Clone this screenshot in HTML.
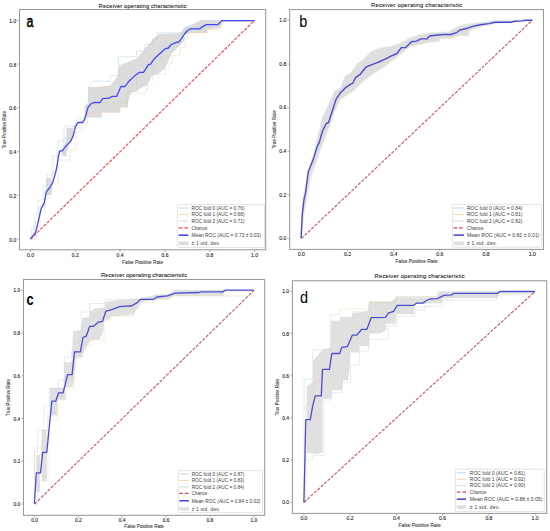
<!DOCTYPE html>
<html><head><meta charset="utf-8"><style>
html,body{margin:0;padding:0;background:#fff;}
svg{display:block;}
</style></head><body>
<svg width="550" height="531" viewBox="0 0 550 531" font-family='"Liberation Sans", sans-serif'>
<rect width="550" height="531" fill="#fff"/>
<polygon points="30.5,239.0 34.5,231.5 36.5,233.5 31.5,239.6" fill="#dcdcdc"/>
<polygon points="46.3,178.0 51.4,178.0 51.4,194.7 47.0,196.0 46.3,192.0" fill="#dcdcdc"/>
<polygon points="66.3,127.5 73.1,128.3 73.8,135.0 69.0,146.0 67.0,152.0 66.3,156.9 61.8,155.4 61.0,150.8 64.0,146.0 66.3,140.0" fill="#dcdcdc"/>
<polygon points="84.8,117.6 84.8,104.8 88.2,104.8 88.5,86.9 95.0,86.9 110.5,85.5 113.0,82.0 117.0,77.0 119.5,65.2 136.5,58.6 151.6,40.7 159.1,34.1 180.0,33.2 185.2,27.6 200.8,20.4 222.5,20.4 254.6,20.8 222.5,21.5 220.2,28.0 207.1,29.6 207.1,32.9 187.5,32.9 184.2,34.5 185.0,39.5 180.2,45.2 172.3,53.1 168.9,59.9 165.5,67.8 158.8,73.5 152.0,75.7 147.4,84.8 135.0,91.6 130.8,92.6 128.0,103.0 128.0,107.6 120.4,107.6 120.4,112.4 102.0,112.4 102.0,117.6" fill="#dcdcdc"/>
<polyline points="30.5,239.0 31.5,239.0 31.5,229.0 35.0,229.0 35.0,214.0 38.0,214.0 38.0,200.0 43.0,200.0 43.0,186.0 47.0,186.0 47.0,175.0 53.0,175.0 53.0,156.0 58.0,156.0 58.0,141.0 64.0,141.0 64.0,126.0 77.0,126.0 77.0,118.0 86.0,118.0 88.5,99.1 88.5,86.9 93.2,81.2 110.1,81.2 110.1,75.6 118.6,75.6 118.6,56.7 136.5,56.7 136.5,51.1 145.0,51.1 145.0,44.5 152.5,44.5 152.5,38.8 157.2,38.8 157.2,32.8 184.0,32.8 184.0,27.0 200.0,27.0 200.0,20.4 254.6,20.4" fill="none" stroke="#a9cbe8" stroke-width="0.7" stroke-opacity="0.6"/>
<polyline points="30.5,239.5 36.0,239.5 36.0,226.0 40.0,226.0 40.0,212.0 45.0,212.0 45.0,198.0 51.0,198.0 51.0,184.0 58.0,184.0 58.0,160.0 70.0,160.0 70.0,150.0 76.0,150.0 76.0,132.0 82.0,132.0 82.0,124.0 87.5,124.0 87.5,112.3 119.5,112.3 119.5,106.6 127.1,106.6 127.1,93.4 145.9,93.4 145.9,89.3 147.4,89.3 147.4,80.2 153.1,80.2 153.1,74.6 165.5,74.6 165.5,68.9 168.9,68.9 168.9,63.3 172.3,63.3 172.3,55.4 180.2,55.4 180.2,47.4 185.0,47.4 185.0,40.0 187.5,40.0 187.5,32.9 207.1,32.9 207.1,29.6 220.2,29.6 220.2,21.5 254.6,21.5" fill="none" stroke="#f6cfa4" stroke-width="0.7" stroke-opacity="0.6"/>
<polyline points="30.5,239.0 34.0,239.0 34.0,222.0 39.0,222.0 39.0,207.0 45.0,207.0 45.0,190.0 52.0,190.0 52.0,172.0 57.0,172.0 57.0,152.0 64.0,152.0 64.0,138.0 72.0,138.0 72.0,128.0 80.0,128.0 80.0,120.0 86.0,120.0 86.0,107.0 100.7,102.9 127.1,102.9 127.1,91.6 136.5,91.6 136.5,76.5 146.9,76.5 146.9,68.0 155.3,68.0 155.3,59.5 161.0,59.5 161.0,46.4 168.5,46.4 168.5,43.5 181.0,43.5 181.0,33.0 188.0,33.0 188.0,29.0 205.0,29.0 205.0,25.0 222.0,25.0 222.0,21.0 254.6,21.0" fill="none" stroke="#b5d8b5" stroke-width="0.7" stroke-opacity="0.6"/>
<line x1="30.5" y1="239.1" x2="254.6" y2="20.3" stroke="#ff4452" stroke-width="1.15" stroke-dasharray="3.2,1.4"/>
<polyline points="30.3,238.9 35.4,233.1 37.6,224.4 41.2,208.5 44.1,203.4 46.3,191.8 49.9,187.5 52.8,182.4 55.7,172.2 57.2,165.0 58.3,157.0 59.8,150.8 62.1,150.8 66.8,145.1 70.6,141.4 73.4,135.2 75.4,126.6 78.0,122.3 82.5,122.5 84.4,119.9 88.2,107.1 90.8,104.0 94.2,102.3 100.2,102.5 102.5,98.7 109.1,98.2 111.9,96.4 116.6,96.4 120.9,86.5 125.1,86.5 128.4,81.8 135.0,75.6 139.5,72.3 143.5,72.3 148.6,64.4 150.3,64.4 154.2,58.8 165.5,48.6 168.4,48.0 171.2,44.6 176.3,42.4 179.1,41.8 184.2,34.5 187.5,30.5 190.7,28.8 199.7,28.8 203.0,26.4 206.3,24.7 217.7,24.7 221.8,20.6 254.6,20.6" fill="none" stroke="#4747f8" stroke-width="1.3" stroke-linejoin="round"/>
<rect x="19.5" y="9.5" width="246.2" height="240.3" fill="none" stroke="#999999" stroke-width="1.05"/>
<line x1="30.5" y1="249.8" x2="30.5" y2="252.0" stroke="#999999" stroke-width="0.8"/>
<line x1="17.3" y1="239.1" x2="19.5" y2="239.1" stroke="#999999" stroke-width="0.8"/>
<text x="30.5" y="257.0" text-anchor="middle" font-size="5.0" fill="#2a2a2a" stroke="#2a2a2a" stroke-width="0.12">0.0</text>
<text x="16.2" y="241.5" text-anchor="end" font-size="5.0" fill="#2a2a2a" stroke="#2a2a2a" stroke-width="0.12">0.0</text>
<line x1="75.3" y1="249.8" x2="75.3" y2="252.0" stroke="#999999" stroke-width="0.8"/>
<line x1="17.3" y1="195.3" x2="19.5" y2="195.3" stroke="#999999" stroke-width="0.8"/>
<text x="75.3" y="257.0" text-anchor="middle" font-size="5.0" fill="#2a2a2a" stroke="#2a2a2a" stroke-width="0.12">0.2</text>
<text x="16.2" y="197.7" text-anchor="end" font-size="5.0" fill="#2a2a2a" stroke="#2a2a2a" stroke-width="0.12">0.2</text>
<line x1="120.1" y1="249.8" x2="120.1" y2="252.0" stroke="#999999" stroke-width="0.8"/>
<line x1="17.3" y1="151.6" x2="19.5" y2="151.6" stroke="#999999" stroke-width="0.8"/>
<text x="120.1" y="257.0" text-anchor="middle" font-size="5.0" fill="#2a2a2a" stroke="#2a2a2a" stroke-width="0.12">0.4</text>
<text x="16.2" y="154.0" text-anchor="end" font-size="5.0" fill="#2a2a2a" stroke="#2a2a2a" stroke-width="0.12">0.4</text>
<line x1="165.0" y1="249.8" x2="165.0" y2="252.0" stroke="#999999" stroke-width="0.8"/>
<line x1="17.3" y1="107.8" x2="19.5" y2="107.8" stroke="#999999" stroke-width="0.8"/>
<text x="165.0" y="257.0" text-anchor="middle" font-size="5.0" fill="#2a2a2a" stroke="#2a2a2a" stroke-width="0.12">0.6</text>
<text x="16.2" y="110.2" text-anchor="end" font-size="5.0" fill="#2a2a2a" stroke="#2a2a2a" stroke-width="0.12">0.6</text>
<line x1="209.8" y1="249.8" x2="209.8" y2="252.0" stroke="#999999" stroke-width="0.8"/>
<line x1="17.3" y1="64.1" x2="19.5" y2="64.1" stroke="#999999" stroke-width="0.8"/>
<text x="209.8" y="257.0" text-anchor="middle" font-size="5.0" fill="#2a2a2a" stroke="#2a2a2a" stroke-width="0.12">0.8</text>
<text x="16.2" y="66.5" text-anchor="end" font-size="5.0" fill="#2a2a2a" stroke="#2a2a2a" stroke-width="0.12">0.8</text>
<line x1="254.6" y1="249.8" x2="254.6" y2="252.0" stroke="#999999" stroke-width="0.8"/>
<line x1="17.3" y1="20.3" x2="19.5" y2="20.3" stroke="#999999" stroke-width="0.8"/>
<text x="254.6" y="257.0" text-anchor="middle" font-size="5.0" fill="#2a2a2a" stroke="#2a2a2a" stroke-width="0.12">1.0</text>
<text x="16.2" y="22.7" text-anchor="end" font-size="5.0" fill="#2a2a2a" stroke="#2a2a2a" stroke-width="0.12">1.0</text>
<text x="142.6" y="7.5" text-anchor="middle" font-size="5.9" textLength="88" lengthAdjust="spacing" fill="#1a1a1a" stroke="#1a1a1a" stroke-width="0.08">Receiver operating characteristic</text>
<text x="142.6" y="263.5" text-anchor="middle" font-size="5.0" textLength="41" lengthAdjust="spacingAndGlyphs" fill="#3c3c3c" stroke="#3c3c3c" stroke-width="0.1">False Positive Rate</text>
<text x="0" y="0" transform="translate(6.1,129.7) rotate(-90)" text-anchor="middle" font-size="5.0" textLength="37.7" lengthAdjust="spacingAndGlyphs" fill="#3c3c3c" stroke="#3c3c3c" stroke-width="0.1">True Positive Rate</text>
<text transform="translate(26.6,26.7) scale(0.72,1)" font-size="17.2" fill="#000" stroke="#000" stroke-width="0.55">a</text>
<rect x="177.3" y="204.7" width="87.2" height="42.7" rx="1" fill="#fff" fill-opacity="0.85" stroke="#dcdcdc" stroke-width="0.8"/>
<line x1="178.8" y1="208.0" x2="188.4" y2="208.0" stroke="#b5d2ea" stroke-width="0.9"/>
<text x="191.5" y="209.8" font-size="4.89" textLength="53.0" lengthAdjust="spacingAndGlyphs" fill="#3c3c3c">ROC fold 0 (AUC = 0.76)</text>
<line x1="178.8" y1="214.6" x2="188.4" y2="214.6" stroke="#f3d3ad" stroke-width="0.9"/>
<text x="191.5" y="216.3" font-size="4.89" textLength="53.0" lengthAdjust="spacingAndGlyphs" fill="#3c3c3c">ROC fold 1 (AUC = 0.68)</text>
<line x1="178.8" y1="221.0" x2="188.4" y2="221.0" stroke="#c9dfc9" stroke-width="0.9"/>
<text x="191.5" y="222.8" font-size="4.89" textLength="53.0" lengthAdjust="spacingAndGlyphs" fill="#3c3c3c">ROC fold 2 (AUC = 0.71)</text>
<line x1="178.8" y1="227.8" x2="188.4" y2="227.8" stroke="#ff4452" stroke-width="1.3" stroke-dasharray="3.6,2.0"/>
<text x="191.5" y="229.6" font-size="4.89" textLength="15.7" lengthAdjust="spacingAndGlyphs" fill="#3c3c3c">Chance</text>
<line x1="178.8" y1="235.2" x2="188.4" y2="235.2" stroke="#4747f8" stroke-width="1.6"/>
<text x="191.5" y="236.9" font-size="4.89" textLength="69.4" lengthAdjust="spacingAndGlyphs" fill="#3c3c3c">Mean ROC (AUC = 0.72 ± 0.03)</text>
<rect x="178.8" y="241.5" width="9.6" height="3.6" fill="#dcdcdc"/>
<text x="191.5" y="245.1" font-size="4.89" textLength="28.5" fill="#3c3c3c">± 1 std. dev.</text>
<polygon points="301.3,238.6 301.6,220.0 303.0,200.0 305.0,190.0 308.0,172.0 312.0,160.0 315.0,150.0 317.0,140.0 322.6,117.2 326.4,109.7 334.6,91.6 340.7,87.9 345.2,76.6 351.2,72.8 357.2,63.8 363.3,60.0 370.0,52.7 378.7,48.4 391.8,46.2 400.5,43.3 409.3,38.2 420.9,34.5 429.4,33.0 448.3,32.3 454.1,28.8 459.9,25.9 471.5,23.7 486.1,22.3 494.5,20.8 532.3,20.3 500.0,22.7 493.4,23.7 480.3,26.6 468.6,31.0 468.6,35.4 459.9,35.4 449.0,38.3 439.5,38.5 439.5,41.0 429.6,42.0 420.9,44.0 409.3,46.9 397.6,56.4 384.5,66.5 373.8,73.6 363.3,81.1 354.2,90.1 345.2,96.1 339.9,99.9 334.6,111.2 329.4,126.3 324.1,140.0 320.0,150.0 316.0,162.0 311.0,176.0 307.0,196.0 304.0,212.0 302.0,228.0 301.3,238.6" fill="#dedede"/>
<polyline points="301.0,238.3 301.3,219.7 302.7,199.7 304.7,189.7 307.7,171.7 311.7,159.7 314.7,149.7 316.7,139.7 322.3,116.9 326.1,109.4 334.3,91.3 340.4,87.6 344.9,76.3 350.9,72.5 356.9,63.5 363.0,59.7 369.7,52.4 378.4,48.1 391.5,45.9 400.2,43.0 409.0,37.9 420.6,34.2 429.1,32.7 448.0,32.0 453.8,28.5 459.6,25.6 471.2,23.4 485.8,22.0 494.2,20.5 532.0,20.0" fill="none" stroke="#c4dde4" stroke-width="0.7" stroke-opacity="0.6"/>
<polyline points="301.6,238.9 302.3,228.3 304.3,212.3 307.3,196.3 311.3,176.3 316.3,162.3 320.3,150.3 324.4,140.3 329.7,126.6 334.9,111.5 340.2,100.2 345.5,96.4 354.5,90.4 363.6,81.4 374.1,73.9 384.8,66.8 397.9,56.7 409.6,47.2 421.2,44.3 429.9,42.3 439.8,41.3 439.8,38.8 449.3,38.6 460.2,35.7 468.9,35.7 468.9,31.3 480.6,26.9 493.7,24.0 500.3,23.0" fill="none" stroke="#efdcb8" stroke-width="0.7" stroke-opacity="0.6"/>
<polyline points="301.7,238.9 302.9,215.1 304.6,200.4 306.1,194.1 308.8,173.0 311.3,166.7 314.5,158.3 317.7,147.7 319.8,143.5 323.2,131.7 327.0,124.2 329.2,123.4 333.0,111.4 336.7,100.1 341.3,93.3 345.8,88.8 351.8,84.7 353.3,84.2 356.3,78.2 360.8,75.2 366.9,67.7 374.4,64.7 380.6,62.4 385.1,60.2 391.0,57.3 397.5,54.4 401.9,48.5 406.2,48.5 412.1,42.7 417.1,42.0 421.5,39.8 427.3,39.8 430.2,36.9 436.1,36.2 443.3,35.4 451.5,35.4 457.0,33.6 460.6,30.9 467.9,29.1 473.3,27.3 482.4,25.4 489.7,24.5 495.1,23.1 511.5,23.1 515.1,22.2 522.4,21.8 526.1,21.1 532.9,21.1" fill="none" stroke="#d5dccf" stroke-width="0.7" stroke-opacity="0.6"/>
<line x1="301.3" y1="238.6" x2="532.3" y2="20.3" stroke="#d24a5c" stroke-width="1.05" stroke-dasharray="3.2,1.4"/>
<polyline points="301.1,238.0 302.3,214.2 304.0,199.5 305.5,193.2 308.2,172.1 310.7,165.8 313.9,157.4 317.1,146.8 319.2,142.6 322.6,130.8 326.4,123.3 328.6,122.5 332.4,110.5 336.1,99.2 340.7,92.4 345.2,87.9 351.2,83.8 352.7,83.3 355.7,77.3 360.2,74.3 366.3,66.8 373.8,63.8 380.0,61.5 384.5,59.3 390.4,56.4 396.9,53.5 401.3,47.6 405.6,47.6 411.5,41.8 416.5,41.1 420.9,38.9 426.7,38.9 429.6,36.0 435.5,35.3 442.7,34.5 450.9,34.5 456.4,32.7 460.0,30.0 467.3,28.2 472.7,26.4 481.8,24.5 489.1,23.6 494.5,22.2 510.9,22.2 514.5,21.3 521.8,20.9 525.5,20.2 532.3,20.2" fill="none" stroke="#4c4cd0" stroke-width="1.4" stroke-linejoin="round"/>
<rect x="289.7" y="9.6" width="253.8" height="239.8" fill="none" stroke="#999999" stroke-width="1.05"/>
<line x1="301.3" y1="249.4" x2="301.3" y2="251.6" stroke="#999999" stroke-width="0.8"/>
<line x1="287.5" y1="238.6" x2="289.7" y2="238.6" stroke="#999999" stroke-width="0.8"/>
<text x="301.3" y="256.3" text-anchor="middle" font-size="5.1" fill="#2a2a2a" stroke="#2a2a2a" stroke-width="0.12">0.0</text>
<text x="286.4" y="240.4" text-anchor="end" font-size="5.1" fill="#2a2a2a" stroke="#2a2a2a" stroke-width="0.12">0.0</text>
<line x1="347.5" y1="249.4" x2="347.5" y2="251.6" stroke="#999999" stroke-width="0.8"/>
<line x1="287.5" y1="194.9" x2="289.7" y2="194.9" stroke="#999999" stroke-width="0.8"/>
<text x="347.5" y="256.3" text-anchor="middle" font-size="5.1" fill="#2a2a2a" stroke="#2a2a2a" stroke-width="0.12">0.2</text>
<text x="286.4" y="196.7" text-anchor="end" font-size="5.1" fill="#2a2a2a" stroke="#2a2a2a" stroke-width="0.12">0.2</text>
<line x1="393.7" y1="249.4" x2="393.7" y2="251.6" stroke="#999999" stroke-width="0.8"/>
<line x1="287.5" y1="151.3" x2="289.7" y2="151.3" stroke="#999999" stroke-width="0.8"/>
<text x="393.7" y="256.3" text-anchor="middle" font-size="5.1" fill="#2a2a2a" stroke="#2a2a2a" stroke-width="0.12">0.4</text>
<text x="286.4" y="153.1" text-anchor="end" font-size="5.1" fill="#2a2a2a" stroke="#2a2a2a" stroke-width="0.12">0.4</text>
<line x1="439.9" y1="249.4" x2="439.9" y2="251.6" stroke="#999999" stroke-width="0.8"/>
<line x1="287.5" y1="107.6" x2="289.7" y2="107.6" stroke="#999999" stroke-width="0.8"/>
<text x="439.9" y="256.3" text-anchor="middle" font-size="5.1" fill="#2a2a2a" stroke="#2a2a2a" stroke-width="0.12">0.6</text>
<text x="286.4" y="109.4" text-anchor="end" font-size="5.1" fill="#2a2a2a" stroke="#2a2a2a" stroke-width="0.12">0.6</text>
<line x1="486.1" y1="249.4" x2="486.1" y2="251.6" stroke="#999999" stroke-width="0.8"/>
<line x1="287.5" y1="64.0" x2="289.7" y2="64.0" stroke="#999999" stroke-width="0.8"/>
<text x="486.1" y="256.3" text-anchor="middle" font-size="5.1" fill="#2a2a2a" stroke="#2a2a2a" stroke-width="0.12">0.8</text>
<text x="286.4" y="65.8" text-anchor="end" font-size="5.1" fill="#2a2a2a" stroke="#2a2a2a" stroke-width="0.12">0.8</text>
<line x1="532.3" y1="249.4" x2="532.3" y2="251.6" stroke="#999999" stroke-width="0.8"/>
<line x1="287.5" y1="20.3" x2="289.7" y2="20.3" stroke="#999999" stroke-width="0.8"/>
<text x="532.3" y="256.3" text-anchor="middle" font-size="5.1" fill="#2a2a2a" stroke="#2a2a2a" stroke-width="0.12">1.0</text>
<text x="286.4" y="22.1" text-anchor="end" font-size="5.1" fill="#2a2a2a" stroke="#2a2a2a" stroke-width="0.12">1.0</text>
<text x="416.6" y="7.1" text-anchor="middle" font-size="5.9" textLength="91" lengthAdjust="spacing" fill="#1a1a1a" stroke="#1a1a1a" stroke-width="0.08">Receiver operating characteristic</text>
<text x="416.6" y="263.3" text-anchor="middle" font-size="5.0" textLength="42" lengthAdjust="spacingAndGlyphs" fill="#3c3c3c" stroke="#3c3c3c" stroke-width="0.1">False Positive Rate</text>
<text x="0" y="0" transform="translate(276.3,129.5) rotate(-90)" text-anchor="middle" font-size="5.0" textLength="38" lengthAdjust="spacingAndGlyphs" fill="#3c3c3c" stroke="#3c3c3c" stroke-width="0.1">True Positive Rate</text>
<text transform="translate(299.2,26.7) scale(0.85,1)" font-size="17" fill="#000" >b</text>
<rect x="452.4" y="204.4" width="89.0" height="42.8" rx="1" fill="#fff" fill-opacity="0.85" stroke="#dcdcdc" stroke-width="0.8"/>
<line x1="453.6" y1="208.0" x2="464.1" y2="208.0" stroke="#b5d2ea" stroke-width="0.9"/>
<text x="467.0" y="209.8" font-size="5.11" textLength="55.4" lengthAdjust="spacingAndGlyphs" fill="#3c3c3c">ROC fold 0 (AUC = 0.84)</text>
<line x1="453.6" y1="214.6" x2="464.1" y2="214.6" stroke="#f3d3ad" stroke-width="0.9"/>
<text x="467.0" y="216.3" font-size="5.11" textLength="55.4" lengthAdjust="spacingAndGlyphs" fill="#3c3c3c">ROC fold 1 (AUC = 0.81)</text>
<line x1="453.6" y1="221.0" x2="464.1" y2="221.0" stroke="#c9dfc9" stroke-width="0.9"/>
<text x="467.0" y="222.8" font-size="5.11" textLength="55.4" lengthAdjust="spacingAndGlyphs" fill="#3c3c3c">ROC fold 2 (AUC = 0.82)</text>
<line x1="453.6" y1="227.8" x2="464.1" y2="227.8" stroke="#d24a5c" stroke-width="1.3" stroke-dasharray="3.6,2.0"/>
<text x="467.0" y="229.6" font-size="5.11" textLength="16.4" lengthAdjust="spacingAndGlyphs" fill="#3c3c3c">Chance</text>
<line x1="453.6" y1="235.1" x2="464.1" y2="235.1" stroke="#4c4cd0" stroke-width="1.6"/>
<text x="467.0" y="236.8" font-size="5.11" textLength="72.5" lengthAdjust="spacingAndGlyphs" fill="#3c3c3c">Mean ROC (AUC = 0.82 ± 0.01)</text>
<rect x="453.6" y="241.5" width="10.5" height="3.6" fill="#dedede"/>
<text x="467.0" y="245.1" font-size="5.11" textLength="29.7" fill="#3c3c3c">± 1 std. dev.</text>
<polygon points="36.3,455.0 40.1,455.0 40.1,491.8 36.3,491.8" fill="#e0e0e0"/>
<polygon points="41.6,429.7 46.8,429.7 46.8,481.3 41.6,481.3" fill="#e0e0e0"/>
<polygon points="50.1,415.4 50.1,387.7 64.2,387.7 64.2,362.3 72.1,362.3 73.6,331.5 80.4,330.7 82.4,317.7 88.9,317.0 89.6,311.2 95.5,308.3 104.2,307.5 104.9,301.7 118.0,300.3 139.8,298.8 154.8,294.8 168.4,294.8 175.2,290.2 225.2,290.2 253.8,290.2 225.2,290.6 223.0,295.5 175.2,295.5 168.4,299.3 154.8,299.3 140.5,302.6 133.7,314.0 125.0,315.4 110.9,316.3 109.2,319.7 104.2,319.7 103.3,330.7 99.9,339.2 91.4,340.0 88.1,344.2 81.3,357.0 76.2,357.8 73.8,381.5 72.1,387.1 65.3,387.1 65.3,399.5 57.4,399.5 57.4,415.4" fill="#e0e0e0"/>
<polyline points="34.5,504.0 34.5,452.0 38.0,452.0 38.0,430.0 44.0,430.0 44.0,406.0 49.6,406.0 49.6,388.6 58.2,388.6 58.2,380.0 64.3,380.0 64.3,357.0 71.9,357.0 73.6,330.7 81.3,330.7 81.3,312.0 89.7,312.0 89.7,303.6 105.0,303.6 105.0,299.3 154.8,299.3 154.8,294.8 168.4,294.8 175.2,290.2 253.8,290.2" fill="none" stroke="#bcd3e6" stroke-width="0.7" stroke-opacity="0.6"/>
<polyline points="34.5,504.0 34.6,446.6 47.9,446.6 47.9,481.3 48.0,481.3" fill="none" stroke="#efd6a8" stroke-width="0.7" stroke-opacity="0.6"/>
<polyline points="47.9,446.6 47.9,420.4 58.2,420.4 58.2,400.0 66.0,400.0 66.0,388.0 74.0,388.0 74.0,358.0 82.0,358.0 82.0,345.0 92.0,345.0 92.0,340.0 104.0,340.0 104.0,320.0 111.0,320.0 111.0,316.0 134.0,316.0 134.0,302.6 154.8,302.6 154.8,299.3 168.4,299.3 168.4,295.5 223.0,295.5 223.0,291.5 253.8,291.5" fill="none" stroke="#efd6a8" stroke-width="0.7" stroke-opacity="0.6"/>
<polyline points="34.5,504.0 38.0,504.0 38.0,462.0 42.0,462.0 42.0,440.0 48.0,440.0 48.0,412.0 56.0,412.0 56.0,396.0 64.0,396.0 64.0,378.0 72.0,378.0 72.0,350.0 80.0,350.0 80.0,338.0 88.0,338.0 88.0,326.0 98.0,326.0 98.0,318.0 106.0,318.0 106.0,308.0 140.0,308.0 140.0,300.0 158.0,300.0 158.0,296.0 253.8,296.0" fill="none" stroke="#c6dcc6" stroke-width="0.7" stroke-opacity="0.6"/>
<line x1="34.5" y1="504.0" x2="253.8" y2="290.5" stroke="#d04a5a" stroke-width="1.05" stroke-dasharray="3.2,1.4"/>
<polyline points="34.4,503.7 36.3,472.9 40.5,472.9 42.6,452.3 46.8,452.3 51.8,401.2 55.7,401.2 58.6,392.8 63.1,392.8 67.6,374.7 72.1,374.7 74.5,351.9 80.4,351.9 83.0,337.5 86.4,335.8 89.7,326.4 93.1,326.4 98.2,322.2 102.5,321.4 105.8,311.2 109.2,310.3 114.3,308.6 119.4,306.6 125.0,306.1 131.4,306.0 137.1,302.6 140.5,299.3 153.6,299.3 157.0,297.0 167.3,295.9 175.2,293.2 199.1,292.5 201.4,291.8 223.0,291.8 225.2,290.2 253.8,290.2" fill="none" stroke="#4c4cd0" stroke-width="1.3" stroke-linejoin="round"/>
<rect x="23.5" y="279.5" width="241.2" height="235.8" fill="none" stroke="#999999" stroke-width="1.05"/>
<line x1="34.5" y1="515.3" x2="34.5" y2="517.5" stroke="#999999" stroke-width="0.8"/>
<line x1="21.3" y1="504.0" x2="23.5" y2="504.0" stroke="#999999" stroke-width="0.8"/>
<text x="34.5" y="521.8" text-anchor="middle" font-size="4.8" fill="#2a2a2a" stroke="#2a2a2a" stroke-width="0.12">0.0</text>
<text x="20.2" y="505.9" text-anchor="end" font-size="4.8" fill="#2a2a2a" stroke="#2a2a2a" stroke-width="0.12">0.0</text>
<line x1="78.4" y1="515.3" x2="78.4" y2="517.5" stroke="#999999" stroke-width="0.8"/>
<line x1="21.3" y1="461.3" x2="23.5" y2="461.3" stroke="#999999" stroke-width="0.8"/>
<text x="78.4" y="521.8" text-anchor="middle" font-size="4.8" fill="#2a2a2a" stroke="#2a2a2a" stroke-width="0.12">0.2</text>
<text x="20.2" y="463.2" text-anchor="end" font-size="4.8" fill="#2a2a2a" stroke="#2a2a2a" stroke-width="0.12">0.2</text>
<line x1="122.2" y1="515.3" x2="122.2" y2="517.5" stroke="#999999" stroke-width="0.8"/>
<line x1="21.3" y1="418.6" x2="23.5" y2="418.6" stroke="#999999" stroke-width="0.8"/>
<text x="122.2" y="521.8" text-anchor="middle" font-size="4.8" fill="#2a2a2a" stroke="#2a2a2a" stroke-width="0.12">0.4</text>
<text x="20.2" y="420.5" text-anchor="end" font-size="4.8" fill="#2a2a2a" stroke="#2a2a2a" stroke-width="0.12">0.4</text>
<line x1="166.1" y1="515.3" x2="166.1" y2="517.5" stroke="#999999" stroke-width="0.8"/>
<line x1="21.3" y1="375.9" x2="23.5" y2="375.9" stroke="#999999" stroke-width="0.8"/>
<text x="166.1" y="521.8" text-anchor="middle" font-size="4.8" fill="#2a2a2a" stroke="#2a2a2a" stroke-width="0.12">0.6</text>
<text x="20.2" y="377.8" text-anchor="end" font-size="4.8" fill="#2a2a2a" stroke="#2a2a2a" stroke-width="0.12">0.6</text>
<line x1="209.9" y1="515.3" x2="209.9" y2="517.5" stroke="#999999" stroke-width="0.8"/>
<line x1="21.3" y1="333.2" x2="23.5" y2="333.2" stroke="#999999" stroke-width="0.8"/>
<text x="209.9" y="521.8" text-anchor="middle" font-size="4.8" fill="#2a2a2a" stroke="#2a2a2a" stroke-width="0.12">0.8</text>
<text x="20.2" y="335.1" text-anchor="end" font-size="4.8" fill="#2a2a2a" stroke="#2a2a2a" stroke-width="0.12">0.8</text>
<line x1="253.8" y1="515.3" x2="253.8" y2="517.5" stroke="#999999" stroke-width="0.8"/>
<line x1="21.3" y1="290.5" x2="23.5" y2="290.5" stroke="#999999" stroke-width="0.8"/>
<text x="253.8" y="521.8" text-anchor="middle" font-size="4.8" fill="#2a2a2a" stroke="#2a2a2a" stroke-width="0.12">1.0</text>
<text x="20.2" y="292.4" text-anchor="end" font-size="4.8" fill="#2a2a2a" stroke="#2a2a2a" stroke-width="0.12">1.0</text>
<text x="144.1" y="276.7" text-anchor="middle" font-size="5.9" textLength="86" lengthAdjust="spacing" fill="#1a1a1a" stroke="#1a1a1a" stroke-width="0.08">Receiver operating characteristic</text>
<text x="144.1" y="528.3" text-anchor="middle" font-size="5.0" textLength="39.5" lengthAdjust="spacingAndGlyphs" fill="#3c3c3c" stroke="#3c3c3c" stroke-width="0.1">False Positive Rate</text>
<text x="0" y="0" transform="translate(10.1,397.4) rotate(-90)" text-anchor="middle" font-size="5.0" textLength="37" lengthAdjust="spacingAndGlyphs" fill="#3c3c3c" stroke="#3c3c3c" stroke-width="0.1">True Positive Rate</text>
<text transform="translate(26.5,305.0) scale(0.76,1)" font-size="16.8" fill="#000" font-weight="bold">c</text>
<rect x="178.3" y="470.6" width="84.3" height="42.0" rx="1" fill="#fff" fill-opacity="0.85" stroke="#dcdcdc" stroke-width="0.8"/>
<line x1="179.3" y1="474.0" x2="188.9" y2="474.0" stroke="#b5d2ea" stroke-width="0.9"/>
<text x="191.7" y="475.8" font-size="4.85" textLength="52.6" lengthAdjust="spacingAndGlyphs" fill="#3c3c3c">ROC fold 0 (AUC = 0.87)</text>
<line x1="179.3" y1="480.5" x2="188.9" y2="480.5" stroke="#f3d3ad" stroke-width="0.9"/>
<text x="191.7" y="482.2" font-size="4.85" textLength="52.6" lengthAdjust="spacingAndGlyphs" fill="#3c3c3c">ROC fold 1 (AUC = 0.83)</text>
<line x1="179.3" y1="486.9" x2="188.9" y2="486.9" stroke="#c9dfc9" stroke-width="0.9"/>
<text x="191.7" y="488.6" font-size="4.85" textLength="52.6" lengthAdjust="spacingAndGlyphs" fill="#3c3c3c">ROC fold 2 (AUC = 0.84)</text>
<line x1="179.3" y1="493.4" x2="188.9" y2="493.4" stroke="#d04a5a" stroke-width="1.3" stroke-dasharray="3.6,2.0"/>
<text x="191.7" y="495.1" font-size="4.85" textLength="15.5" lengthAdjust="spacingAndGlyphs" fill="#3c3c3c">Chance</text>
<line x1="179.3" y1="500.8" x2="188.9" y2="500.8" stroke="#4c4cd0" stroke-width="1.6"/>
<text x="191.7" y="502.6" font-size="4.85" textLength="68.8" lengthAdjust="spacingAndGlyphs" fill="#3c3c3c">Mean ROC (AUC = 0.84 ± 0.02)</text>
<rect x="179.3" y="507.1" width="9.6" height="3.6" fill="#e0e0e0"/>
<text x="191.7" y="510.6" font-size="4.85" textLength="28.2" fill="#3c3c3c">± 1 std. dev.</text>
<polygon points="306.6,452.7 306.6,386.6 312.7,381.7 313.2,360.8 322.5,349.8 331.1,347.4 331.3,321.3 339.3,321.3 340.7,317.6 351.6,317.6 353.1,313.3 361.1,312.5 368.4,310.4 369.1,303.8 370.0,301.6 391.3,301.6 396.2,297.5 437.1,297.5 438.7,291.8 500.0,291.4 497.3,298.1 453.5,298.1 442.0,298.5 442.0,303.3 428.9,303.3 424.0,304.1 414.2,304.1 414.2,313.9 396.2,313.9 396.2,323.7 386.4,323.7 386.4,330.0 380.0,333.6 369.8,333.6 369.1,346.0 359.6,346.0 359.6,352.5 350.2,352.5 350.0,364.2 348.0,380.4 343.3,380.4 342.1,390.2 332.3,390.2 331.1,398.8 322.5,398.8 322.5,452.7 316.4,454.0" fill="#e0e0e0"/>
<polyline points="303.9,502.4 304.1,460.1 304.1,379.2 312.7,379.2 312.7,349.8 322.5,349.8 330.5,349.8 330.5,321.0 340.0,321.0 340.0,317.0 353.0,317.0 353.0,312.0 369.0,312.0 369.0,302.0 396.0,302.0 396.0,296.5 438.0,296.5 438.0,291.4 535.1,291.4" fill="none" stroke="#bcd8dc" stroke-width="0.7" stroke-opacity="0.6"/>
<polyline points="304.1,460.1 312.7,460.1 312.7,455.2 323.7,455.2 323.7,400.0 331.1,400.0 331.1,392.7 342.1,392.7 342.1,382.9 350.5,382.9 350.5,365.0 359.6,365.0 359.6,351.0 368.4,351.0 368.4,339.5 388.0,339.5 388.0,326.0 397.0,326.0 397.0,316.0 415.0,316.0 415.0,310.0 425.0,310.0 425.0,306.0 442.0,306.0 442.0,300.0 497.0,300.0 497.0,293.0 535.1,293.0" fill="none" stroke="#bcd8dc" stroke-width="0.7" stroke-opacity="0.6"/>
<polyline points="303.9,502.4 305.0,502.4 305.0,420.0 312.7,420.0 312.7,381.7 322.0,381.7 322.0,365.0 330.5,365.0 330.5,314.7 340.0,314.7 340.0,308.9 369.1,308.9 369.1,303.1 396.0,303.1 396.0,297.0 453.0,297.0 453.0,293.5 535.1,293.5" fill="none" stroke="#f0d2aa" stroke-width="0.7" stroke-opacity="0.6"/>
<polyline points="303.9,502.4 306.0,502.4 306.0,405.0 314.0,405.0 314.0,390.0 322.0,390.0 322.0,372.0 331.0,372.0 331.0,356.0 342.0,356.0 342.0,348.0 352.0,348.0 352.0,338.0 362.0,338.0 362.0,332.0 372.0,332.0 372.0,320.0 388.0,320.0 388.0,314.0 398.0,314.0 398.0,307.0 430.0,307.0 430.0,300.0 452.0,300.0 452.0,295.0 535.1,295.0" fill="none" stroke="#cfe0cf" stroke-width="0.7" stroke-opacity="0.6"/>
<line x1="303.9" y1="502.4" x2="535.1" y2="291.4" stroke="#d04a5a" stroke-width="1.05" stroke-dasharray="3.2,1.4"/>
<polyline points="303.9,502.4 305.8,419.7 310.3,419.7 312.6,406.3 315.2,395.9 321.3,395.9 322.5,369.4 329.4,369.4 331.8,353.5 339.7,353.5 341.8,347.4 347.3,346.7 352.4,335.1 356.7,335.1 361.8,329.3 366.9,329.3 371.3,317.6 385.5,317.4 388.2,313.2 393.6,311.4 397.3,305.4 413.6,305.4 416.4,303.2 422.7,303.2 426.4,300.5 430.0,299.0 437.3,298.6 440.9,296.8 443.8,295.3 451.5,294.9 453.4,293.4 497.3,293.4 500.1,291.5 535.1,291.5" fill="none" stroke="#4c4cd0" stroke-width="1.3" stroke-linejoin="round"/>
<rect x="292.4" y="280.8" width="254.3" height="232.6" fill="none" stroke="#999999" stroke-width="1.05"/>
<line x1="303.9" y1="513.4" x2="303.9" y2="515.6" stroke="#999999" stroke-width="0.8"/>
<line x1="290.2" y1="502.4" x2="292.4" y2="502.4" stroke="#999999" stroke-width="0.8"/>
<text x="303.9" y="519.8" text-anchor="middle" font-size="5.0" fill="#2a2a2a" stroke="#2a2a2a" stroke-width="0.12">0.0</text>
<text x="289.1" y="504.4" text-anchor="end" font-size="5.0" fill="#2a2a2a" stroke="#2a2a2a" stroke-width="0.12">0.0</text>
<line x1="350.1" y1="513.4" x2="350.1" y2="515.6" stroke="#999999" stroke-width="0.8"/>
<line x1="290.2" y1="460.2" x2="292.4" y2="460.2" stroke="#999999" stroke-width="0.8"/>
<text x="350.1" y="519.8" text-anchor="middle" font-size="5.0" fill="#2a2a2a" stroke="#2a2a2a" stroke-width="0.12">0.2</text>
<text x="289.1" y="462.2" text-anchor="end" font-size="5.0" fill="#2a2a2a" stroke="#2a2a2a" stroke-width="0.12">0.2</text>
<line x1="396.4" y1="513.4" x2="396.4" y2="515.6" stroke="#999999" stroke-width="0.8"/>
<line x1="290.2" y1="418.0" x2="292.4" y2="418.0" stroke="#999999" stroke-width="0.8"/>
<text x="396.4" y="519.8" text-anchor="middle" font-size="5.0" fill="#2a2a2a" stroke="#2a2a2a" stroke-width="0.12">0.4</text>
<text x="289.1" y="420.0" text-anchor="end" font-size="5.0" fill="#2a2a2a" stroke="#2a2a2a" stroke-width="0.12">0.4</text>
<line x1="442.6" y1="513.4" x2="442.6" y2="515.6" stroke="#999999" stroke-width="0.8"/>
<line x1="290.2" y1="375.8" x2="292.4" y2="375.8" stroke="#999999" stroke-width="0.8"/>
<text x="442.6" y="519.8" text-anchor="middle" font-size="5.0" fill="#2a2a2a" stroke="#2a2a2a" stroke-width="0.12">0.6</text>
<text x="289.1" y="377.8" text-anchor="end" font-size="5.0" fill="#2a2a2a" stroke="#2a2a2a" stroke-width="0.12">0.6</text>
<line x1="488.9" y1="513.4" x2="488.9" y2="515.6" stroke="#999999" stroke-width="0.8"/>
<line x1="290.2" y1="333.6" x2="292.4" y2="333.6" stroke="#999999" stroke-width="0.8"/>
<text x="488.9" y="519.8" text-anchor="middle" font-size="5.0" fill="#2a2a2a" stroke="#2a2a2a" stroke-width="0.12">0.8</text>
<text x="289.1" y="335.6" text-anchor="end" font-size="5.0" fill="#2a2a2a" stroke="#2a2a2a" stroke-width="0.12">0.8</text>
<line x1="535.1" y1="513.4" x2="535.1" y2="515.6" stroke="#999999" stroke-width="0.8"/>
<line x1="290.2" y1="291.4" x2="292.4" y2="291.4" stroke="#999999" stroke-width="0.8"/>
<text x="535.1" y="519.8" text-anchor="middle" font-size="5.0" fill="#2a2a2a" stroke="#2a2a2a" stroke-width="0.12">1.0</text>
<text x="289.1" y="293.4" text-anchor="end" font-size="5.0" fill="#2a2a2a" stroke="#2a2a2a" stroke-width="0.12">1.0</text>
<text x="419.6" y="278.2" text-anchor="middle" font-size="5.9" textLength="90" lengthAdjust="spacing" fill="#1a1a1a" stroke="#1a1a1a" stroke-width="0.08">Receiver operating characteristic</text>
<text x="419.6" y="527.0" text-anchor="middle" font-size="5.0" textLength="42" lengthAdjust="spacingAndGlyphs" fill="#3c3c3c" stroke="#3c3c3c" stroke-width="0.1">False Positive Rate</text>
<text x="0" y="0" transform="translate(279.0,397.1) rotate(-90)" text-anchor="middle" font-size="5.0" textLength="37" lengthAdjust="spacingAndGlyphs" fill="#3c3c3c" stroke="#3c3c3c" stroke-width="0.1">True Positive Rate</text>
<text transform="translate(300.0,303.2) scale(0.85,1)" font-size="17" fill="#000" >d</text>
<rect x="455.4" y="469.2" width="88.9" height="42.2" rx="1" fill="#fff" fill-opacity="0.85" stroke="#dcdcdc" stroke-width="0.8"/>
<line x1="456.8" y1="472.8" x2="466.0" y2="472.8" stroke="#b5d2ea" stroke-width="0.9"/>
<text x="469.8" y="474.6" font-size="5.12" textLength="55.5" lengthAdjust="spacingAndGlyphs" fill="#3c3c3c">ROC fold 0 (AUC = 0.81)</text>
<line x1="456.8" y1="479.4" x2="466.0" y2="479.4" stroke="#f3d3ad" stroke-width="0.9"/>
<text x="469.8" y="481.1" font-size="5.12" textLength="55.5" lengthAdjust="spacingAndGlyphs" fill="#3c3c3c">ROC fold 1 (AUC = 0.92)</text>
<line x1="456.8" y1="485.6" x2="466.0" y2="485.6" stroke="#c9dfc9" stroke-width="0.9"/>
<text x="469.8" y="487.4" font-size="5.12" textLength="55.5" lengthAdjust="spacingAndGlyphs" fill="#3c3c3c">ROC fold 2 (AUC = 0.90)</text>
<line x1="456.8" y1="492.2" x2="466.0" y2="492.2" stroke="#d04a5a" stroke-width="1.3" stroke-dasharray="3.6,2.0"/>
<text x="469.8" y="493.9" font-size="5.12" textLength="16.4" lengthAdjust="spacingAndGlyphs" fill="#3c3c3c">Chance</text>
<line x1="456.8" y1="499.2" x2="466.0" y2="499.2" stroke="#4c4cd0" stroke-width="1.6"/>
<text x="469.8" y="500.9" font-size="5.12" textLength="72.6" lengthAdjust="spacingAndGlyphs" fill="#3c3c3c">Mean ROC (AUC = 0.88 ± 0.05)</text>
<rect x="456.8" y="505.3" width="9.2" height="3.6" fill="#e0e0e0"/>
<text x="469.8" y="508.9" font-size="5.12" textLength="29.8" fill="#3c3c3c">± 1 std. dev.</text>
</svg></body></html>
